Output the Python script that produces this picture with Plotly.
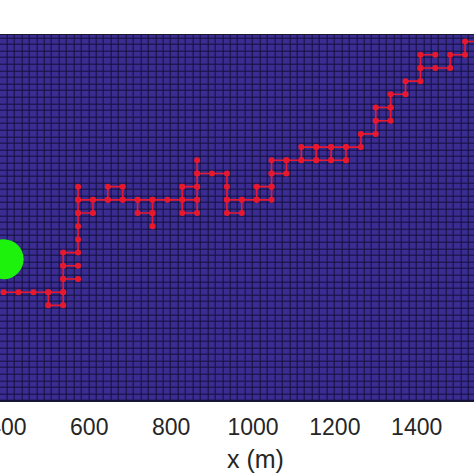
import plotly.graph_objects as go

# grid map: square cells of 200/11 m, 88 x 56 cells, all the same value
CELL = 200 / 11
n_cols = 88
n_rows = 56
cell_value = 1

# path nodes as (column, row) cell indices, None splits the branches
path_col = [21, 23, 25, 27, 29, 29, 27, 27, None,
            29, 29, 29, 29, 31, 31, 31, 31, 31, 31, None,
            29, 31, None,
            29, 31, None,
            31, 33, 35, 37, 39, 41, 43, 45, 47, None,
            31, 33, 33, None,
            35, 35, 37, 37, None,
            39, 39, 41, 41, None,
            41, 41, None,
            45, 45, 45, 47, 47, 47, 45, None,
            47, 47, 47, None,
            47, 49, 51, 51, 51, 51, 53, 53, None,
            51, 53, 55, 57, 57, 57, 57, 59, 61, 63, 65, 67, None,
            55, 55, 57, None,
            57, 59, 59, None,
            61, 61, 63, 65, 67, 69, 69, 71, 71, 71, 73, 73, 75, 75, 77, 77, 77, 79, None,
            63, 63, None,
            65, 65, None,
            67, 67, None,
            71, 73, 73, None,
            77, 79, 81, 81, 83, 83, 85]
path_row = [16, 16, 16, 16, 16, 14, 14, 16, None,
            16, 18, 20, 22, 22, 24, 26, 28, 30, 32, None,
            20, 20, None,
            18, 18, None,
            30, 30, 30, 30, 30, 30, 30, 30, 30, None,
            28, 28, 30, None,
            30, 32, 32, 30, None,
            30, 28, 28, 30, None,
            28, 26, None,
            32, 30, 28, 28, 30, 32, 32, None,
            32, 34, 36, None,
            34, 34, 34, 32, 30, 28, 28, 30, None,
            30, 30, 30, 30, 32, 34, 36, 36, 36, 36, 36, 36, None,
            30, 32, 32, None,
            34, 34, 36, None,
            36, 38, 38, 38, 38, 38, 40, 40, 42, 44, 44, 46, 46, 48, 48, 50, 52, 52, None,
            36, 38, None,
            36, 38, None,
            36, 38, None,
            42, 42, 44, None,
            50, 50, 50, 52, 52, 54, 54]

# green blob (cell indices)
blob_col = [21]
blob_row = [21]

x_ticks = [400, 600, 800, 1000, 1200, 1400]


def to_m(idx):
    return [None if v is None else (v + 0.5) * CELL for v in idx]


grid_x = to_m(list(range(n_cols)))
grid_y = to_m(list(range(n_rows)))
grid_z = [[cell_value] * n_cols for _ in range(n_rows)]

fig = go.Figure()

fig.add_trace(go.Heatmap(
    x=grid_x, y=grid_y, z=grid_z,
    colorscale=[[0, '#3a2c90'], [1, '#3a2c90']],
    showscale=False, xgap=1, ygap=1, hoverinfo='skip'
))

fig.add_trace(go.Scatter(
    x=to_m(blob_col), y=to_m(blob_row),
    mode='markers',
    marker=dict(size=40, color='#1cf20c', line=dict(width=0)),
    showlegend=False, hoverinfo='skip'
))

fig.add_trace(go.Scatter(
    x=to_m(path_col), y=to_m(path_row),
    mode='lines+markers',
    line=dict(color='#e8182f', width=1.6),
    marker=dict(size=6, color='#e8182f'),
    connectgaps=False, showlegend=False
))

fig.add_annotation(
    text='x (m)', x=1005, xref='x', y=-0.158, yref='paper',
    yanchor='middle', showarrow=False,
    font=dict(size=25, color='#262626', family='Liberation Sans, Arial')
)

fig.update_layout(
    width=474, height=474,
    margin=dict(l=0, r=0, t=35, b=73, autoexpand=False),
    paper_bgcolor='white',
    plot_bgcolor='#15113d',
    font=dict(family='Liberation Sans, Arial', color='#262626'),
    showlegend=False
)

fig.update_xaxes(
    range=[382, 1540], tickvals=x_ticks, automargin=False,
    ticklabeloverflow='allow', ticklabelstandoff=5,
    tickfont=dict(size=23, color='#262626'),
    showgrid=False, zeroline=False, ticks='',
    showline=True, linecolor='#1a1a2e', linewidth=1, mirror=True
)
fig.update_yaxes(
    range=[0, 1009], showticklabels=False, automargin=False,
    showgrid=False, zeroline=False, ticks='',
    showline=True, linecolor='#1a1a2e', linewidth=1, mirror=True
)

# page body margin off so the figure sits at the window's top-left corner
fig.write_html("out.html", config={'displayModeBar': False},
               post_script="document.body.style.margin='0';")
